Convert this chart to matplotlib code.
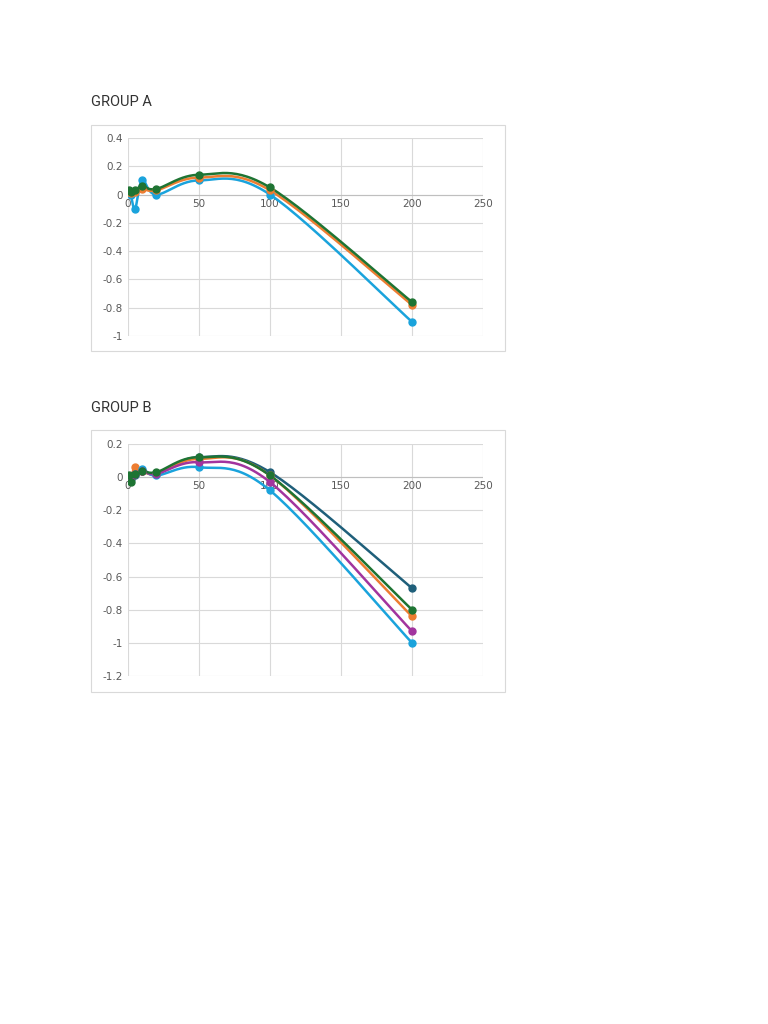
import numpy as np
import matplotlib
matplotlib.use("Agg")
import matplotlib.pyplot as plt

x = [1, 2, 5, 10, 20, 50, 100, 200]
a_blue = [0.02, 0.0, -0.1, 0.1, 0.0, 0.1, 0.0, -0.9]
a_orange = [0.02, 0.01, 0.02, 0.04, 0.03, 0.12, 0.03, -0.78]
a_green = [0.03, 0.02, 0.03, 0.06, 0.04, 0.14, 0.05, -0.76]
b_dark = [0.0, -0.01, 0.01, 0.04, 0.02, 0.12, 0.03, -0.67]
b_orange = [0.0, 0.0, 0.06, 0.04, 0.02, 0.11, 0.01, -0.84]
b_green = [0.01, -0.03, 0.02, 0.04, 0.03, 0.12, 0.01, -0.80]
b_magenta = [-0.01, 0.0, 0.02, 0.04, 0.02, 0.09, -0.03, -0.93]
b_light = [0.0, 0.0, 0.02, 0.05, 0.01, 0.06, -0.08, -1.0]

C_LB, C_OR, C_GR, C_DB, C_MG = "#1aa3dc", "#ed7d31", "#1e7433", "#1f5f7a", "#a2349e"

def smooth(xs, ys, n=30):
    xs = np.asarray(xs, float); ys = np.asarray(ys, float)
    P = np.column_stack([xs, ys])
    P = np.vstack([P[0], P, P[-1]])
    out = []
    for i in range(1, len(P) - 2):
        p0, p1, p2, p3 = P[i-1], P[i], P[i+1], P[i+2]
        t = np.linspace(0, 1, n)[:, None]
        pts = 0.5 * ((2*p1) + (-p0 + p2)*t + (2*p0 - 5*p1 + 4*p2 - p3)*t**2 + (-p0 + 3*p1 - 3*p2 + p3)*t**3)
        out.append(pts)
    out = np.vstack(out)
    return out[:, 0], out[:, 1]

fig = plt.figure(figsize=(7.68, 10.24), dpi=100)
W, H = 768, 1024

def panel(box, plot, title_y, title, series, ylim, yticks):
    bx0, by0, bx1, by1 = box
    fig.patches.append(plt.Rectangle((bx0/W, 1-by1/H), (bx1-bx0)/W, (by1-by0)/H,
                                     transform=fig.transFigure, fill=False, ec="#d9d9d9", lw=0.8))
    fig.text(91/W, 1-title_y/H, title, fontsize=10.5, color="#333333", va="center", family="Roboto")
    px0, py0, px1, py1 = plot
    ax = fig.add_axes([px0/W, 1-py1/H, (px1-px0)/W, (py1-py0)/H])
    ax.set_xlim(0, 250); ax.set_ylim(*ylim)
    ax.set_xticks([0, 50, 100, 150, 200, 250]); ax.set_yticks(yticks)
    ax.set_yticklabels([f"{v:g}" for v in yticks])
    ax.grid(True, color="#d9d9d9", lw=0.8)
    ax.set_axisbelow(True)
    for s in ax.spines.values():
        s.set_visible(False)
    ax.axhline(0, color="#bfbfbf", lw=0.8, zorder=1)
    ax.tick_params(length=0, labelsize=7.5, labelcolor="#595959")
    ax.set_xticklabels([])
    for xv in [0, 50, 100, 150, 200, 250]:
        ax.annotate(str(xv), (xv, 0), xytext=(0, -3), textcoords="offset points",
                    ha="center", va="top", fontsize=7.5, color="#595959", annotation_clip=False)
    for ys, c in series:
        sx, sy = smooth(x, ys)
        ax.plot(sx, sy, color=c, lw=1.8, zorder=3)
        ax.plot(x, ys, "o", color=c, ms=5, zorder=4)
    return ax

panel((91, 125, 505, 351), (128, 138, 483, 336), 102, "GROUP A",
      [(a_blue, C_LB), (a_orange, C_OR), (a_green, C_GR)],
      (-1, 0.4), [0.4, 0.2, 0, -0.2, -0.4, -0.6, -0.8, -1])
panel((91, 430, 505, 692), (128, 444, 483, 676), 408, "GROUP B",
      [(b_dark, C_DB), (b_orange, C_OR), (b_light, C_LB), (b_magenta, C_MG), (b_green, C_GR)],
      (-1.2, 0.2), [0.2, 0, -0.2, -0.4, -0.6, -0.8, -1, -1.2])

fig.savefig("out.png", dpi=100)
